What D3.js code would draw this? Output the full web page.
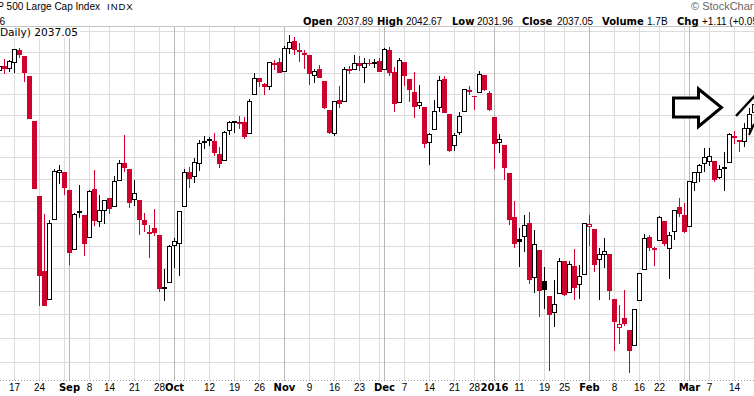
<!DOCTYPE html>
<html>
<head>
<meta charset="utf-8">
<script src="https://cdn.jsdelivr.net/npm/d3@7"></script>
<style>
  body { margin: 0; background: #fff; }
  svg { display: block; }
</style>
</head>
<body>
<div id="chart"></div>
<script>
// $SPX daily candles, Aug 11 2015 - Mar 21 2016
const dates = [
  "2015-08-11", "2015-08-12", "2015-08-13", "2015-08-14", "2015-08-17", "2015-08-18", "2015-08-19", "2015-08-20",
  "2015-08-21", "2015-08-24", "2015-08-25", "2015-08-26", "2015-08-27", "2015-08-28", "2015-08-31",
  "2015-09-01", "2015-09-02", "2015-09-03", "2015-09-04", "2015-09-08", "2015-09-09", "2015-09-10", "2015-09-11",
  "2015-09-14", "2015-09-15", "2015-09-16", "2015-09-17", "2015-09-18", "2015-09-21", "2015-09-22", "2015-09-23",
  "2015-09-24", "2015-09-25", "2015-09-28", "2015-09-29", "2015-09-30",
  "2015-10-01", "2015-10-02", "2015-10-05", "2015-10-06", "2015-10-07", "2015-10-08", "2015-10-09", "2015-10-12",
  "2015-10-13", "2015-10-14", "2015-10-15", "2015-10-16", "2015-10-19", "2015-10-20", "2015-10-21", "2015-10-22",
  "2015-10-23", "2015-10-26", "2015-10-27", "2015-10-28", "2015-10-29", "2015-10-30",
  "2015-11-02", "2015-11-03", "2015-11-04", "2015-11-05", "2015-11-06", "2015-11-09", "2015-11-10", "2015-11-11",
  "2015-11-12", "2015-11-13", "2015-11-16", "2015-11-17", "2015-11-18", "2015-11-19", "2015-11-20", "2015-11-23",
  "2015-11-24", "2015-11-25", "2015-11-27", "2015-11-30",
  "2015-12-01", "2015-12-02", "2015-12-03", "2015-12-04", "2015-12-07", "2015-12-08", "2015-12-09", "2015-12-10",
  "2015-12-11", "2015-12-14", "2015-12-15", "2015-12-16", "2015-12-17", "2015-12-18", "2015-12-21", "2015-12-22",
  "2015-12-23", "2015-12-24", "2015-12-28", "2015-12-29", "2015-12-30", "2015-12-31",
  "2016-01-04", "2016-01-05", "2016-01-06", "2016-01-07", "2016-01-08", "2016-01-11", "2016-01-12", "2016-01-13",
  "2016-01-14", "2016-01-15", "2016-01-19", "2016-01-20", "2016-01-21", "2016-01-22", "2016-01-25", "2016-01-26",
  "2016-01-27", "2016-01-28", "2016-01-29",
  "2016-02-01", "2016-02-02", "2016-02-03", "2016-02-04", "2016-02-05", "2016-02-08", "2016-02-09", "2016-02-10",
  "2016-02-11", "2016-02-12", "2016-02-16", "2016-02-17", "2016-02-18", "2016-02-19", "2016-02-22", "2016-02-23",
  "2016-02-24", "2016-02-25", "2016-02-26", "2016-02-29",
  "2016-03-01", "2016-03-02", "2016-03-03", "2016-03-04", "2016-03-07", "2016-03-08", "2016-03-09", "2016-03-10",
  "2016-03-11", "2016-03-14", "2016-03-15", "2016-03-16", "2016-03-17", "2016-03-18", "2016-03-21"
];

const open = [
  2102.66, 2081.10, 2086.19, 2083.15, 2089.70, 2101.99, 2095.69, 2076.61, 2034.08, 1965.15, 1898.08, 1872.75, 1942.77, 1986.06, 1986.73,
  1970.09, 1916.52, 1950.79, 1947.76, 1927.30, 1971.45, 1941.59, 1951.45, 1963.06, 1955.10, 1978.02, 1995.33, 1989.66, 1960.84, 1961.39,
  1943.24, 1932.24, 1935.93, 1929.18, 1881.90, 1887.14,
  1919.65, 1921.77, 1954.33, 1986.63, 1982.34, 1994.01, 2013.73, 2015.65, 2015.00, 2003.66, 1996.47, 2024.37, 2031.73, 2033.13, 2033.47,
  2021.88, 2058.19, 2075.08, 2068.75, 2066.48, 2088.35, 2090.00,
  2080.76, 2102.63, 2110.60, 2101.68, 2098.60, 2096.56, 2077.19, 2083.41, 2072.29, 2044.64, 2022.08, 2053.67, 2051.99, 2083.70, 2082.82,
  2089.41, 2084.42, 2089.30, 2088.82, 2090.95,
  2082.93, 2101.71, 2080.71, 2051.24, 2090.42, 2073.39, 2061.17, 2047.93, 2047.27, 2013.37, 2025.55, 2046.50, 2073.76, 2040.81, 2010.27,
  2023.15, 2042.20, 2063.52, 2057.77, 2060.54, 2077.34, 2060.59,
  2038.20, 2013.78, 2011.71, 1985.32, 1945.97, 1926.12, 1927.83, 1940.34, 1891.68, 1916.68, 1888.66, 1876.18, 1861.46, 1877.40, 1906.28,
  1878.79, 1902.52, 1885.22, 1894.00,
  1936.94, 1935.26, 1907.07, 1911.67, 1913.07, 1873.25, 1848.46, 1857.10, 1847.00, 1833.40, 1871.44, 1898.80, 1927.57, 1916.74, 1924.44,
  1942.38, 1917.56, 1931.87, 1954.95, 1947.13,
  1937.09, 1976.60, 1985.60, 1994.01, 1996.11, 1996.88, 1981.44, 1990.97, 1994.71, 2019.27, 2015.27, 2014.24, 2026.90, 2041.16, 2047.88
];

const high = [
  2102.66, 2089.06, 2092.93, 2092.45, 2102.87, 2103.47, 2096.17, 2076.61, 2034.08, 1965.15, 1948.04, 1943.09, 1989.60, 1993.48, 1986.73,
  1970.09, 1948.91, 1975.01, 1947.76, 1970.42, 1988.63, 1965.29, 1961.05, 1963.06, 1983.19, 1997.26, 2020.86, 1989.66, 1979.64, 1961.39,
  1949.52, 1938.88, 1952.89, 1929.18, 1899.48, 1920.53,
  1927.21, 1951.36, 1989.17, 1991.62, 1999.31, 2016.50, 2020.13, 2018.66, 2022.34, 2009.56, 2024.15, 2033.54, 2034.45, 2039.12, 2037.97,
  2055.20, 2079.74, 2075.14, 2070.37, 2090.35, 2092.52, 2094.32,
  2106.20, 2116.48, 2114.59, 2108.78, 2101.91, 2096.56, 2083.67, 2086.94, 2072.29, 2044.64, 2053.22, 2066.69, 2085.31, 2086.74, 2097.06,
  2095.61, 2094.12, 2093.00, 2093.29, 2093.81,
  2103.37, 2104.27, 2085.00, 2093.84, 2090.42, 2073.85, 2080.33, 2067.65, 2047.27, 2022.92, 2053.87, 2076.72, 2076.37, 2040.81, 2022.90,
  2042.74, 2064.73, 2067.36, 2057.77, 2081.56, 2077.34, 2062.54,
  2038.20, 2021.94, 2011.71, 1985.32, 1960.40, 1935.65, 1947.38, 1950.33, 1934.47, 1916.68, 1901.44, 1876.18, 1889.85, 1908.85, 1906.28,
  1906.73, 1916.99, 1902.96, 1940.24,
  1947.20, 1935.26, 1918.01, 1927.35, 1913.07, 1873.25, 1868.25, 1881.60, 1847.00, 1864.78, 1895.77, 1930.68, 1930.00, 1918.78, 1946.70,
  1942.38, 1932.08, 1951.83, 1962.96, 1958.27,
  1978.35, 1986.51, 1993.69, 2009.13, 2008.76, 1996.88, 1992.69, 2005.08, 2022.37, 2024.57, 2015.94, 2032.02, 2046.24, 2052.36, 2053.36
];

const low = [
  2076.49, 2052.09, 2078.26, 2080.61, 2079.30, 2094.14, 2070.53, 2035.73, 1970.89, 1867.01, 1867.08, 1872.75, 1942.77, 1975.19, 1965.98,
  1903.07, 1916.52, 1944.72, 1911.21, 1927.30, 1937.88, 1937.19, 1939.19, 1948.27, 1954.30, 1977.93, 1986.73, 1953.45, 1955.80, 1929.22,
  1932.57, 1908.92, 1928.89, 1879.21, 1871.91, 1887.14,
  1900.70, 1893.70, 1954.33, 1971.99, 1976.44, 1987.53, 2007.61, 2010.55, 2001.78, 1990.73, 1996.47, 2020.46, 2022.31, 2026.61, 2017.22,
  2021.88, 2058.19, 2066.53, 2058.84, 2063.11, 2082.63, 2079.34,
  2080.76, 2097.51, 2096.98, 2090.41, 2083.74, 2068.24, 2069.91, 2074.85, 2045.66, 2022.02, 2019.94, 2045.90, 2051.99, 2078.76, 2082.82,
  2081.39, 2070.29, 2086.30, 2084.13, 2080.41,
  2082.93, 2077.11, 2042.35, 2051.24, 2066.78, 2052.32, 2036.53, 2045.67, 2008.80, 1993.26, 2025.55, 2042.43, 2041.66, 2005.33, 2005.93,
  2020.49, 2042.20, 2058.73, 2044.20, 2060.54, 2061.97, 2043.62,
  1989.68, 2004.17, 1979.05, 1938.83, 1918.46, 1901.10, 1914.35, 1886.41, 1878.93, 1857.83, 1864.60, 1812.29, 1848.98, 1877.40, 1875.97,
  1878.79, 1872.70, 1873.65, 1894.00,
  1920.03, 1897.29, 1872.23, 1900.52, 1872.65, 1828.46, 1834.94, 1850.32, 1810.10, 1833.40, 1871.44, 1898.80, 1915.09, 1902.17, 1924.44,
  1919.44, 1891.00, 1925.41, 1945.78, 1931.81,
  1937.09, 1968.80, 1977.37, 1986.77, 1992.44, 1977.43, 1979.84, 1969.25, 1994.71, 2012.05, 2005.23, 2010.04, 2022.16, 2041.16, 2043.14
];

const close = [
  2084.07, 2086.05, 2083.39, 2091.54, 2102.44, 2096.92, 2079.61, 2035.73, 1970.89, 1893.21, 1867.61, 1940.51, 1987.66, 1988.87, 1972.18,
  1913.85, 1948.86, 1951.13, 1921.22, 1969.41, 1942.04, 1952.29, 1961.05, 1953.03, 1978.09, 1995.31, 1990.20, 1958.03, 1966.97, 1942.74,
  1938.76, 1932.24, 1931.34, 1881.77, 1884.09, 1920.03,
  1923.82, 1951.36, 1987.05, 1979.92, 1995.83, 2013.43, 2014.89, 2017.46, 2003.69, 1994.24, 2023.86, 2033.11, 2033.66, 2030.77, 2018.94,
  2052.51, 2075.15, 2071.18, 2065.89, 2090.35, 2089.41, 2079.36,
  2104.05, 2109.79, 2102.31, 2099.93, 2099.20, 2078.58, 2081.72, 2075.00, 2045.97, 2023.04, 2053.19, 2050.44, 2083.58, 2081.24, 2089.17,
  2086.59, 2089.14, 2088.87, 2090.11, 2080.41,
  2102.63, 2079.51, 2049.62, 2091.69, 2077.07, 2063.59, 2047.62, 2052.23, 2012.37, 2021.94, 2043.41, 2073.07, 2041.89, 2005.55, 2021.15,
  2038.97, 2064.29, 2060.99, 2056.50, 2078.36, 2063.36, 2043.94,
  2012.66, 2016.71, 1990.26, 1943.09, 1922.03, 1923.67, 1938.68, 1890.28, 1921.84, 1880.33, 1881.33, 1859.33, 1868.99, 1906.90, 1877.08,
  1903.63, 1882.95, 1893.36, 1940.24,
  1939.38, 1903.03, 1912.53, 1915.45, 1880.05, 1853.44, 1852.21, 1851.86, 1829.08, 1864.78, 1895.58, 1926.82, 1917.83, 1917.78, 1945.50,
  1921.27, 1929.80, 1951.70, 1948.05, 1932.23,
  1978.35, 1986.45, 1993.40, 1999.99, 2001.76, 1979.26, 1989.26, 1989.57, 2022.19, 2019.64, 2015.93, 2027.22, 2040.59, 2049.58, 2051.60
];

// price gridlines every 20 points
const yGrid = [1820, 1840, 1860, 1880, 1900, 1920, 1940, 1960, 1980, 2000, 2020, 2040, 2060, 2080, 2100, 2120];

// x axis labels
const monthTicks = ["2015-09-01", "2015-10-01", "2015-11-02", "2015-12-01", "2016-01-04", "2016-02-01", "2016-03-01"];
const monthTickLabels = ["Sep", "Oct", "Nov", "Dec", "2016", "Feb", "Mar"];
const weekTicks = [
  "2015-08-17", "2015-08-24", "2015-09-08", "2015-09-14", "2015-09-21", "2015-09-28", "2015-10-12", "2015-10-19",
  "2015-10-26", "2015-11-09", "2015-11-16", "2015-11-23", "2015-12-07", "2015-12-14", "2015-12-21", "2015-12-28",
  "2016-01-11", "2016-01-19", "2016-01-25", "2016-02-08", "2016-02-16", "2016-02-22", "2016-03-07", "2016-03-14",
  "2016-03-21"
];
const weekTickLabels = ["17", "24", "8", "14", "21", "28", "12", "19", "26", "9", "16", "23", "7", "14", "21", "28",
  "11", "19", "25", "8", "16", "22", "7", "14", "21"];

const red = "#d0002f";
const W = 754, H = 396;
const plotTop = 27, plotBottom = 381;

const svg = d3
  .select("#chart")
  .append("svg")
  .attr("width", W)
  .attr("height", H)
  .style("font-family", "'Liberation Sans', Arial, sans-serif");

const x = d3.scaleBand().domain(dates).range([-8, -8 + 5 * dates.length]);
const y = d3.scaleLog().domain([1803.7, 2124.3]).range([plotBottom, plotTop]);
const cx = (d) => x(d) + 2.5;

const parse = d3.timeParse("%Y-%m-%d");
const rows = dates.map((d, i) => ({
  date: d,
  t: parse(d),
  o: open[i],
  h: high[i],
  l: low[i],
  c: close[i],
  prev: i > 0 ? close[i - 1] : open[i],
}));

// gridlines
const grid = svg.append("g").attr("shape-rendering", "crispEdges");

grid
  .selectAll("line.h")
  .data(yGrid.filter((p) => y(p) > plotTop + 2))
  .join("line")
  .attr("class", "h")
  .attr("x1", 0)
  .attr("x2", W)
  .attr("y1", (p) => Math.round(y(p)) + 0.5)
  .attr("y2", (p) => Math.round(y(p)) + 0.5)
  .attr("stroke", "#dcdcdc");

const weekStarts = rows.filter((r, i) => i > 0 && r.t.getDay() < rows[i - 1].t.getDay());
const monthStarts = rows.filter((r, i) => i > 0 && r.t.getMonth() !== rows[i - 1].t.getMonth());

grid
  .selectAll("line.w")
  .data(weekStarts)
  .join("line")
  .attr("class", "w")
  .attr("x1", (d) => cx(d.date))
  .attr("x2", (d) => cx(d.date))
  .attr("y1", plotTop)
  .attr("y2", plotBottom)
  .attr("stroke", "#dcdcdc");

grid
  .selectAll("line.m")
  .data(monthStarts)
  .join("line")
  .attr("class", "m")
  .attr("x1", (d) => cx(d.date))
  .attr("x2", (d) => cx(d.date))
  .attr("y1", plotTop)
  .attr("y2", plotBottom)
  .attr("stroke", "#b8b8b8");

// plot frame: top border and dotted day axis
svg.append("line")
  .attr("x1", 0).attr("x2", W)
  .attr("y1", plotTop - 0.5).attr("y2", plotTop - 0.5)
  .attr("stroke", "#c4c4c4")
  .attr("shape-rendering", "crispEdges");

svg.append("line")
  .attr("x1", 0).attr("x2", W)
  .attr("y1", plotBottom - 0.5).attr("y2", plotBottom - 0.5)
  .attr("stroke", "#9a9a9a")
  .attr("stroke-dasharray", "1,2")
  .attr("shape-rendering", "crispEdges");

// candles
const candles = svg
  .append("g")
  .attr("shape-rendering", "crispEdges")
  .selectAll("g")
  .data(rows)
  .join("g");

const colorOf = (d) => (d.c >= d.prev ? "#000" : red);

candles
  .append("line")
  .attr("x1", (d) => cx(d.date))
  .attr("x2", (d) => cx(d.date))
  .attr("y1", (d) => Math.round(y(d.h)))
  .attr("y2", (d) => Math.round(y(d.l)))
  .attr("stroke", colorOf);

candles.each(function (d) {
  const top = Math.round(y(Math.max(d.o, d.c)));
  const bot = Math.round(y(Math.min(d.o, d.c)));
  const hgt = Math.max(1, bot - top);
  const g = d3.select(this);
  if (d.c >= d.o) {
    // hollow body
    g.append("rect")
      .attr("x", x(d.date) + 0.5)
      .attr("y", top + 0.5)
      .attr("width", 4)
      .attr("height", Math.max(1, hgt - 1))
      .attr("fill", "#fff")
      .attr("stroke", colorOf(d));
  } else {
    g.append("rect")
      .attr("x", x(d.date))
      .attr("y", top)
      .attr("width", 5)
      .attr("height", hgt)
      .attr("fill", colorOf(d));
  }
});

// x axis labels
const axis = svg.append("g").attr("font-size", 10).attr("fill", "#000");

axis
  .selectAll("text.wk")
  .data(weekTicks)
  .join("text")
  .attr("class", "wk")
  .attr("x", (d) => cx(d))
  .attr("y", 391)
  .attr("text-anchor", "middle")
  .text((d, i) => weekTickLabels[i]);

axis
  .selectAll("text.mo")
  .data(monthTicks)
  .join("text")
  .attr("class", "mo")
  .attr("x", (d) => cx(d))
  .attr("y", 391)
  .attr("text-anchor", "middle")
  .style("font-family", "'DejaVu Sans', Verdana, sans-serif")
  .style("font-weight", "bold")
  .text((d, i) => monthTickLabels[i]);

// header
svg.append("text")
  .attr("x", 100).attr("y", 9.5)
  .attr("text-anchor", "end")
  .attr("font-size", 10)
  .text("$SPX S&P 500 Large Cap Index");

svg.append("text")
  .attr("x", 107).attr("y", 9.5)
  .attr("font-size", 9.5)
  .attr("letter-spacing", 1)
  .text("INDX");

svg.append("text")
  .attr("x", 691).attr("y", 9.5)
  .attr("font-size", 11)
  .attr("fill", "#666")
  .text("© StockCharts.com");

svg.append("text")
  .attr("x", 5).attr("y", 24.5)
  .attr("text-anchor", "end")
  .attr("font-size", 10)
  .text("18-Mar-2016");

const quote = [
  { t: "Open", b: true, x: 303 }, { t: "2037.89", x: 337 },
  { t: "High", b: true, x: 377 }, { t: "2042.67", x: 406 },
  { t: "Low", b: true, x: 452 }, { t: "2031.96", x: 477 },
  { t: "Close", b: true, x: 522 }, { t: "2037.05", x: 557 },
  { t: "Volume", b: true, x: 602 }, { t: "1.7B", x: 647 },
  { t: "Chg", b: true, x: 677 }, { t: "+1.11 (+0.05%)", x: 702 },
];

svg.append("g")
  .selectAll("text")
  .data(quote)
  .join("text")
  .attr("x", (d) => d.x)
  .attr("y", 24.5)
  .attr("font-size", 10)
  .style("font-family", (d) => (d.b ? "'DejaVu Sans', Verdana, sans-serif" : null))
  .style("font-weight", (d) => (d.b ? "bold" : null))
  .text((d) => d.t);

// legend line inside the plot
svg.append("rect")
  .attr("x", 0).attr("y", plotTop)
  .attr("width", 80).attr("height", 11)
  .attr("fill", "#fff");

svg.append("text")
  .attr("x", 78).attr("y", 36)
  .attr("text-anchor", "end")
  .attr("font-size", 10.6)
  .style("font-family", "'DejaVu Sans', Verdana, sans-serif")
  .text("$SPX (Daily) 2037.05");

// hand-drawn annotations
svg.append("polygon")
  .attr("points", "673.5,98 698.5,98 698.5,89 721.5,107.5 698.5,126.5 698.5,117 673.5,117")
  .attr("fill", "#fff")
  .attr("stroke", "#000")
  .attr("stroke-width", 3)
  .attr("stroke-linejoin", "miter");

svg.append("line")
  .attr("x1", 736).attr("y1", 116)
  .attr("x2", 760).attr("y2", 90)
  .attr("stroke", "#000")
  .attr("stroke-width", 2.5);

svg.append("line")
  .attr("x1", 754).attr("y1", 124)
  .attr("x2", 749).attr("y2", 135)
  .attr("stroke", "#000")
  .attr("stroke-width", 2);
</script>
</body>
</html>
